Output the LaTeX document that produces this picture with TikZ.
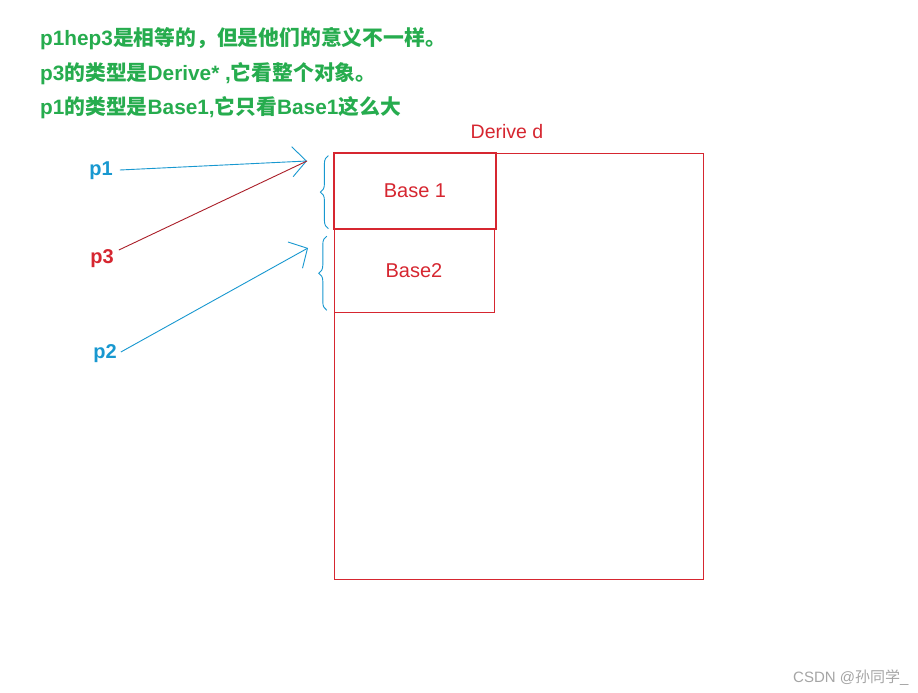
\documentclass[tikz,border=0pt]{standalone}
\usepackage{fontspec}
\setmainfont{Liberation Sans}
\newfontfamily\cjk{Noto Sans CJK SC}
\newcommand{\zh}[1]{{\cjk #1}}
\usetikzlibrary{arrows.meta}
\usetikzlibrary{decorations.pathreplacing}
\definecolor{notegreen}{RGB}{38,172,78}
\definecolor{boxred}{RGB}{214,38,48}
\definecolor{ptrblue}{RGB}{24,152,208}
\definecolor{ptrred}{RGB}{170,30,40}
\definecolor{markgray}{RGB}{165,165,165}
\tikzset{
  note/.style={anchor=base west, text=notegreen, font=\fontsize{20.8}{24}\selectfont\bfseries, inner sep=0pt},
  block/.style={draw=boxred, text=boxred, font=\fontsize{20}{22}\selectfont, inner sep=0pt},
  ptr/.style={font=\fontsize{20}{23}\selectfont\bfseries, inner sep=1pt},
  ink/.style={-{Straight Barb[length=14pt,width=30pt]}, line width=0.9pt},
  part/.style={draw=ptrblue, line width=0.9pt, decorate, decoration={brace, amplitude=8pt}}
}
\begin{document}
\begin{tikzpicture}[x=1pt, y=-1pt]
    \fill [white] (0,0) rectangle (918,693);
    \useasboundingbox (0,0) rectangle (918,693);
    %% notes
    \node [note] (line1) at (40,46) {p1hep3\zh{是相等的，但是他们的意义不一样。}};
    \node [note] (line2) at (40,81) {p3\zh{的类型是}Derive* ,\zh{它看整个对象。}};
    \node [note] (line3) at (40,114) {p1\zh{的类型是}Base1,\zh{它只看}Base1\zh{这么大}};
    %% object d
    \node [block, minimum width=369, minimum height=426] (derive) at (518.5,366) {};
    \node [text=boxred, font=\fontsize{19.5}{22}\selectfont] (dname) at (507,132) {Derive d};
    \node [block, line width=1.2pt, minimum width=162, minimum height=76] (base1) at (415,191) {Base 1};
    \node [block, minimum width=160, minimum height=83] (base2) at (414,270.5) {Base2};
    %% pointers
    \node [ptr, text=ptrblue] (p1) at (101,171) {p1};
    \node [ptr, text=boxred] (p3) at (102,259) {p3};
    \node [ptr, text=ptrblue] (p2) at (105,354) {p2};
    \coordinate (tip1) at (307,161);
    \coordinate (tip2) at (308,248);
    \draw [ink, ptrblue] (p1.east) ++(6,-1) -- (tip1);
    \draw [ptrred, line width=0.9pt] (p3.east) ++(4,-9) -- (tip1);
    \draw [ink, ptrblue] (p2.east) ++(3,-2) -- (tip2);
    %% braces
    \draw [part] (base1.south west) ++(-5,-1) -- ++(0,-73);
    \draw [part] (base2.south west) ++(-7,-2) -- ++(0,-74);
    %% watermark
    \node [text=markgray, font=\fontsize{15}{17}\selectfont, anchor=east] (mark) at (912,678) {CSDN @\zh{孙同学}\_};
\end{tikzpicture}
\end{document}
